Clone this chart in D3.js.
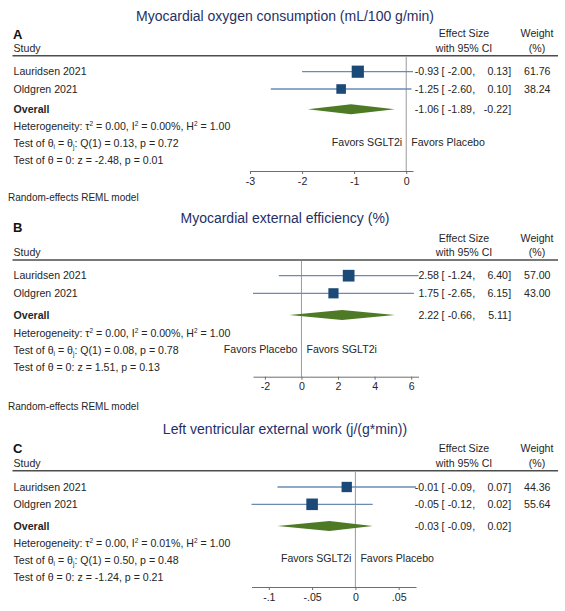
<!DOCTYPE html>
<html>
<head>
<meta charset="utf-8">
<script src="https://cdn.jsdelivr.net/npm/d3@7"></script>
<style>
  body { margin: 0; background: #fff; }
  svg text { font-family: "Liberation Sans", Arial, sans-serif; fill: #262626; white-space: pre; }
</style>
</head>
<body>
<div id="chart"></div>
<script>
// studies shared by all three meta-analyses
const studies = ["Lauridsen 2021", "Oldgren 2021"];

// A - myocardial oxygen consumption
const esA = [-0.93, -1.25];
const loA = [-2.0, -2.6];
const hiA = [0.13, 0.1];
const weightA = [61.76, 38.24];
const overallA = [-1.06, -1.89, -0.22];
const ticksA = [-3, -2, -1, 0];
const domainA = [-3, 0.13];
const hetA = ["0.00", "0.00%", "1.00"];
const qA = ["0.13", "0.72"];
const zA = ["-2.48", "0.01"];

// B - myocardial external efficiency
const esB = [2.58, 1.75];
const loB = [-1.24, -2.65];
const hiB = [6.4, 6.15];
const weightB = [57.0, 43.0];
const overallB = [2.22, -0.66, 5.11];
const ticksB = [-2, 0, 2, 4, 6];
const domainB = [-2.65, 6.4];
const hetB = ["0.00", "0.00%", "1.00"];
const qB = ["0.08", "0.78"];
const zB = ["1.51", "0.13"];

// C - left ventricular external work
const esC = [-0.01, -0.05];
const loC = [-0.09, -0.12];
const hiC = [0.07, 0.02];
const weightC = [44.36, 55.64];
const overallC = [-0.03, -0.09, 0.02];
const ticksC = [-0.1, -0.05, 0, 0.05];
const domainC = [-0.12, 0.07];
const hetC = ["0.00", "0.01%", "1.00"];
const qC = ["0.50", "0.48"];
const zC = ["-1.24", "0.21"];

const W = 565, H = 611;
const FS = 10.6;

const svg = d3.select("#chart").append("svg")
  .attr("width", W).attr("height", H);

// stata style tick labels: -.05 instead of -0.05
const stataFmt = (d) => {
  let s = String(+d.toFixed(4));
  return s.replace(/^(-?)0\./, "$1.");
};

function txt(g, x, y, s, opts = {}) {
  return g.append("text")
    .attr("x", x).attr("y", y).attr("dy", "0.35em")
    .attr("text-anchor", opts.anchor || "start")
    .style("font-size", (opts.size || FS) + "px")
    .style("font-weight", opts.bold ? "bold" : null)
    .style("fill", opts.fill || null)
    .text(s);
}

function drawPanel(p) {
  const g = svg.append("g");
  const L = p.layout;

  const x = d3.scaleLinear().domain(p.domain).range(p.range);

  // title and panel letter
  txt(g, 285, L.title, p.title, { anchor: "middle", size: 14, fill: "#1f3066" });
  txt(g, 13, L.letter, p.letter, { size: 13, bold: true, fill: "#111" });

  // column headers
  txt(g, 464, L.head1, "Effect Size", { anchor: "middle" });
  txt(g, 537, L.head1, "Weight", { anchor: "middle" });
  txt(g, 13.5, L.head2, "Study");
  txt(g, 464, L.head2, "with 95% CI", { anchor: "middle" });
  txt(g, 537, L.head2, "(%)", { anchor: "middle" });

  g.append("line")
    .attr("x1", 12.5).attr("x2", 558)
    .attr("y1", L.rule).attr("y2", L.rule)
    .attr("stroke", "#4d4d4d").attr("stroke-width", 1.4);

  // line of no effect
  g.append("line")
    .attr("x1", x(0)).attr("x2", x(0))
    .attr("y1", L.rule + 1).attr("y2", L.axis)
    .attr("stroke", "#9a9a9a").attr("stroke-width", 1);

  // study rows
  studies.forEach((name, i) => {
    const y = L.rows[i];
    txt(g, 13.5, y, name);
    g.append("line")
      .attr("x1", x(p.lo[i])).attr("x2", x(p.hi[i]))
      .attr("y1", y).attr("y2", y)
      .attr("stroke", "#6a8cb3").attr("stroke-width", 1.3);
    const s = 1.55 * Math.sqrt(p.weight[i]);
    g.append("rect")
      .attr("x", x(p.es[i]) - s / 2).attr("y", y - s / 2)
      .attr("width", s).attr("height", s)
      .attr("fill", "#1c4a78");
    ciText(g, y, p.es[i], p.lo[i], p.hi[i]);
    txt(g, 550.5, y, p.weight[i].toFixed(2), { anchor: "end" });
  });

  // overall diamond
  const yo = L.overall;
  const [oe, ol, oh] = p.overall;
  txt(g, 13.5, yo, "Overall", { bold: true });
  g.append("path")
    .attr("d", d3.line()([
      [x(ol), yo], [x(oe), yo - 5], [x(oh), yo], [x(oe), yo + 5]
    ]) + "Z")
    .attr("fill", "#4e7a26");
  ciText(g, yo, oe, ol, oh);

  // heterogeneity statistics
  const t1 = g.append("text").attr("x", 13.5).attr("y", L.stats[0]).attr("dy", "0.35em")
    .style("font-size", FS + "px");
  t1.append("tspan").text("Heterogeneity: \u03c4");
  t1.append("tspan").attr("dy", -4).style("font-size", "6.5px").text("2");
  t1.append("tspan").attr("dy", 4).text(` = ${p.het[0]}, I`);
  t1.append("tspan").attr("dy", -4).style("font-size", "6.5px").text("2");
  t1.append("tspan").attr("dy", 4).text(` = ${p.het[1]}, H`);
  t1.append("tspan").attr("dy", -4).style("font-size", "6.5px").text("2");
  t1.append("tspan").attr("dy", 4).text(` = ${p.het[2]}`);

  const t2 = g.append("text").attr("x", 13.5).attr("y", L.stats[1]).attr("dy", "0.35em")
    .style("font-size", FS + "px");
  t2.append("tspan").text("Test of \u03b8");
  t2.append("tspan").attr("dy", 2).style("font-size", "6.5px").text("i");
  t2.append("tspan").attr("dy", -2).text(" = \u03b8");
  t2.append("tspan").attr("dy", 2).style("font-size", "6.5px").text("j");
  t2.append("tspan").attr("dy", -2).text(`: Q(1) = ${p.q[0]}, p = ${p.q[1]}`);

  txt(g, 13.5, L.stats[2], `Test of \u03b8 = 0: z = ${p.z[0]}, p = ${p.z[1]}`);

  // favors labels
  txt(g, x(0) - 4, L.favors, p.favors[0], { anchor: "end" });
  txt(g, x(0) + 5, L.favors, p.favors[1]);

  // x axis
  const axis = g.append("g")
    .attr("transform", `translate(0, ${L.axis})`)
    .call(d3.axisBottom(x).tickValues(p.ticks).tickFormat(stataFmt)
      .tickSizeInner(3).tickSizeOuter(0).tickPadding(3));
  axis.select(".domain").attr("stroke", "#6e6e6e");
  axis.selectAll(".tick line").attr("stroke", "#6e6e6e");
  axis.selectAll(".tick text")
    .style("font-size", FS + "px")
    .style("font-family", '"Liberation Sans", Arial, sans-serif')
    .attr("fill", "#262626");

  if (L.note) txt(g, 8, L.note, "Random-effects REML model", { size: 10 });
}

// effect size with ci, laid out in columns like the stata table
function ciText(g, y, es, lo, hi) {
  txt(g, 439, y, es.toFixed(2), { anchor: "end" });
  txt(g, 441.5, y, "[");
  txt(g, 472, y, lo.toFixed(2), { anchor: "end" });
  txt(g, 472.3, y, ",");
  txt(g, 508, y, hi.toFixed(2), { anchor: "end" });
  txt(g, 508.3, y, "]");
}

drawPanel({
  title: "Myocardial oxygen consumption (mL/100 g/min)", letter: "A",
  es: esA, lo: loA, hi: hiA, weight: weightA, overall: overallA,
  ticks: ticksA, domain: domainA, range: [250, 413],
  het: hetA, q: qA, z: zA, favors: ["Favors SGLT2i", "Favors Placebo"],
  layout: { title: 16, letter: 34, head1: 33.5, head2: 48.3, rule: 55.8,
    rows: [71.7, 89], overall: 109.3, stats: [126.5, 143.5, 160.5],
    favors: 142, axis: 171, note: 197 }
});

drawPanel({
  title: "Myocardial external efficiency (%)", letter: "B",
  es: esB, lo: loB, hi: hiB, weight: weightB, overall: overallB,
  ticks: ticksB, domain: domainB, range: [253, 418.5],
  het: hetB, q: qB, z: zB, favors: ["Favors Placebo", "Favors SGLT2i"],
  layout: { title: 218, letter: 227, head1: 238, head2: 252.7, rule: 260,
    rows: [275.7, 293.3], overall: 315, stats: [333.3, 350.5, 367.7],
    favors: 349, axis: 376.7, note: 406 }
});

drawPanel({
  title: "Left ventricular external work (j/(g*min))", letter: "C",
  es: esC, lo: loC, hi: hiC, weight: weightC, overall: overallC,
  ticks: ticksC, domain: domainC, range: [251.5, 416],
  het: hetC, q: qC, z: zC, favors: ["Favors SGLT2i", "Favors Placebo"],
  layout: { title: 429.3, letter: 448.3, head1: 448, head2: 463.3, rule: 470.8,
    rows: [487, 504.3], overall: 526, stats: [543, 560, 577],
    favors: 558.3, axis: 587, note: null }
});
</script>
</body>
</html>
